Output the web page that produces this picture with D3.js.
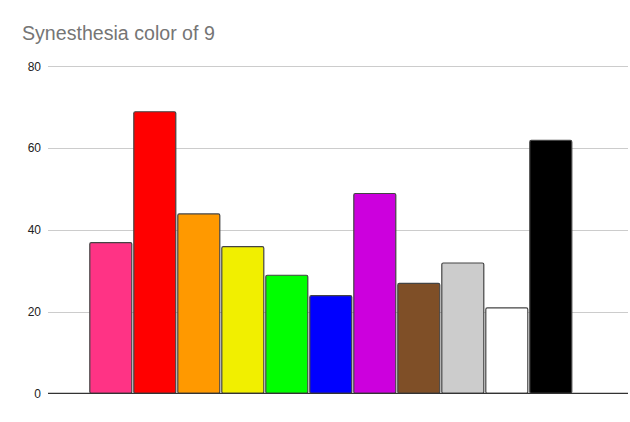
<!DOCTYPE html>
<html><head><meta charset="utf-8">
<script src="https://cdn.jsdelivr.net/npm/d3@7"></script>
<style>body{margin:0;background:#fff}svg{display:block}</style>
</head><body>
<script>
const categories = ["Pink","Red","Orange","Yellow","Green","Blue","Purple","Brown","Gray","White","Black"];
const values = [37,69,44,36,29,24,49,27,32,21,62];
const barColors = ["#ff3385","#ff0000","#ff9900","#f1ef00","#00ff00","#0000ff","#cc00dd","#7f4f27","#cccccc","#ffffff","#000000"];
const yTicks = [0,20,40,60,80];
const title = "Synesthesia color of 9";

const W=630,H=422;
const svg=d3.select("body").append("svg").attr("width",W).attr("height",H);
svg.append("rect").attr("width",W).attr("height",H).attr("fill","#fff");

const y=d3.scaleLinear().domain([0,80]).range([393.3,66.3]);
const x=d3.scaleBand().domain(categories).range([88.8,88.8+11*44]).paddingInner(1/44).paddingOuter(0.5/44);

svg.append("text").attr("x",22).attr("y",40).attr("font-family","'Liberation Sans', Arial, sans-serif")
  .attr("font-size",19.6).attr("fill","#757575").text(title);

const yAxis=d3.axisLeft(y).tickValues(yTicks).tickSize(-580).tickPadding(7);
const g=svg.append("g").attr("transform","translate(48,0)").call(yAxis);
g.select(".domain").remove();
g.selectAll(".tick line").attr("stroke","#cccccc").attr("shape-rendering","crispEdges");
g.selectAll(".tick text").attr("font-family","'Liberation Sans', Arial, sans-serif").attr("font-size",12).attr("fill","#222").attr("x",-7);

svg.append("g").selectAll("rect").data(categories).join("rect")
  .attr("x",d=>x(d)+0.5).attr("width",x.bandwidth()-1)
  .attr("y",(d,i)=>y(values[i])+0.5).attr("height",(d,i)=>y(0)-y(values[i])-0.5)
  .attr("rx",1.5).attr("fill",(d,i)=>barColors[i]).attr("stroke","#444").attr("stroke-width",1.2);

svg.append("line").attr("x1",48).attr("x2",628).attr("y1",y(0)).attr("y2",y(0))
  .attr("stroke","#333").attr("stroke-width",1.2);
</script>
</body></html>
